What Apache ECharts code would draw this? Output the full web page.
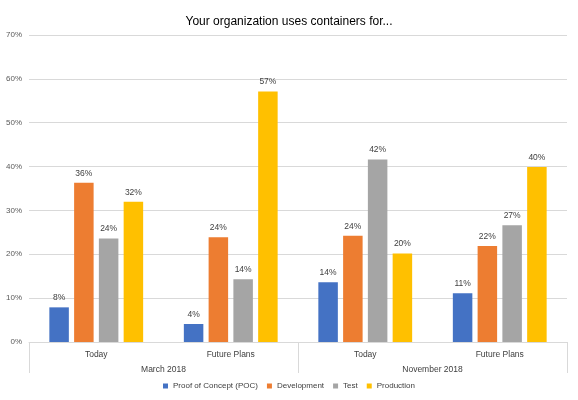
<!DOCTYPE html>
<html>
<head>
<meta charset="utf-8">
<style>
  html, body { margin: 0; padding: 0; background: #fff; }
  #chart { width: 578px; height: 400px; }
</style>
<script src="https://cdn.jsdelivr.net/npm/echarts@6/dist/echarts.min.js"></script>
</head>
<body>
<div id="chart"></div>
<script>
// data (percent)
var categories = ['Today', 'Future Plans', 'Today', 'Future Plans'];
var periods = ['March 2018', 'November 2018'];
var seriesNames = ['Proof of Concept (POC)', 'Development', 'Test', 'Production'];
var poc = [7.9, 4.1, 13.6, 11.1];
var development = [36.3, 23.9, 24.2, 21.9];
var test = [23.6, 14.3, 41.6, 26.6];
var production = [32.0, 57.1, 20.2, 39.9];
var colors = ['#4472C4', '#ED7D31', '#A5A5A5', '#FFC000'];

(function() {
  var myChart = echarts.init(document.getElementById('chart'));
  var font = 'Liberation Sans, sans-serif';
  var values = [poc, development, test, production];

  // one bar series per legend entry
  var series = seriesNames.map(function(name, i) {
    return {
      name: name,
      type: 'bar',
      xAxisIndex: 0,
      data: values[i],
      barWidth: '14.5%',
      barGap: '27%',
      itemStyle: { color: colors[i] },
      label: {
        show: true,
        position: 'top',
        distance: 5,
        fontSize: 8.5,
        fontFamily: font,
        color: '#404040',
        formatter: function(p) { return Math.round(p.value) + '%'; }
      }
    };
  });

  var option = {
    color: colors,
    animation: false,
    title: {
      text: 'Your organization uses containers for...',
      left: 'center',
      top: 11,
      textStyle: { fontSize: 12, fontWeight: 'normal', color: '#000', fontFamily: font }
    },
    legend: {
      data: seriesNames,
      bottom: 5,
      left: 'center',
      icon: 'rect',
      itemWidth: 5,
      itemHeight: 5,
      itemGap: 9,
      textStyle: { fontSize: 8, color: '#404040', fontFamily: font }
    },
    grid: { left: 29, right: 11, top: 35, bottom: 58 },
    xAxis: [
      {
        type: 'category',
        data: categories,
        position: 'bottom',
        axisLine: { lineStyle: { color: '#d9d9d9' } },
        axisTick: { show: false },
        axisLabel: { fontSize: 8.5, color: '#404040', margin: 8, fontFamily: font }
      },
      {
        // second level: the survey period
        type: 'category',
        data: periods,
        position: 'bottom',
        axisLine: { show: false },
        axisTick: { show: true, length: 31, lineStyle: { color: '#d9d9d9' } },
        axisLabel: { fontSize: 8.5, color: '#404040', margin: 23, fontFamily: font }
      }
    ],
    yAxis: {
      type: 'value',
      min: 0,
      max: 70,
      interval: 10,
      axisLabel: { formatter: '{value}%', fontSize: 8, color: '#595959', margin: 7, fontFamily: font },
      axisLine: { show: false },
      axisTick: { show: false },
      splitLine: { lineStyle: { color: '#d9d9d9' } }
    },
    series: series
  };
  myChart.setOption(option);
})();
</script>
</body>
</html>
